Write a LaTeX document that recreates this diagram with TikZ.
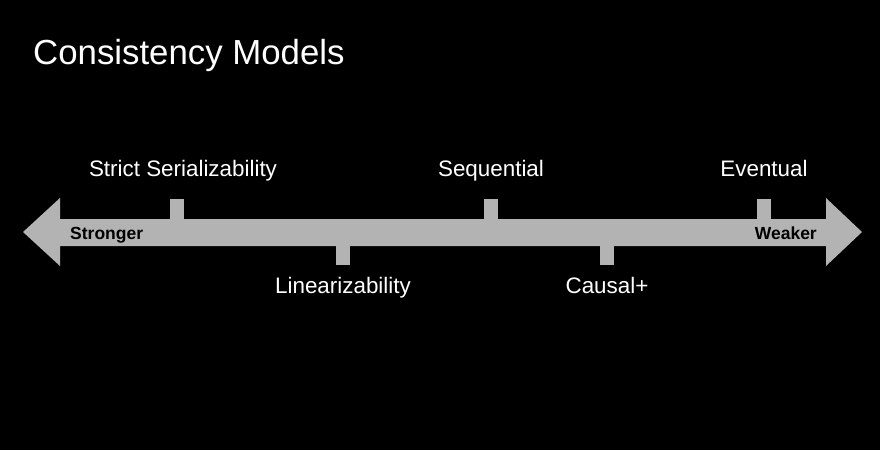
\documentclass[tikz,border=0pt]{standalone}
\usepackage{fontspec}
\setmainfont{Liberation Sans}
\begin{document}
\begin{tikzpicture}[x=1pt,y=-1pt,
  lbl/.style={text=white,font=\fontsize{22.4}{24}\selectfont,inner sep=0pt},
  end/.style={text=black,font=\bfseries\fontsize{17.5}{19}\selectfont,inner sep=0pt}]
\definecolor{arrowgrey}{HTML}{B3B3B3}
\fill[black] (0,0) rectangle (880,450);
\useasboundingbox (0,0) rectangle (880,450);
\node[lbl,anchor=base west,font=\fontsize{34.8}{38}\selectfont] (title) at (33,64) {Consistency Models};
\fill[arrowgrey] (23,232) -- (60,198) -- (60,219) -- (826,219) -- (826,198) -- (862,232) -- (826,266) -- (826,246) -- (60,246) -- (60,266) -- cycle;
\fill[arrowgrey] (170,199) rectangle (184,219);
\fill[arrowgrey] (484,199) rectangle (498,219);
\fill[arrowgrey] (757,199) rectangle (771,219);
\fill[arrowgrey] (336,246) rectangle (350,265);
\fill[arrowgrey] (600,246) rectangle (614,265);
\node[lbl,anchor=base] (ss) at (183,176) {Strict Serializability};
\node[lbl,anchor=base] (sq) at (491,176) {Sequential};
\node[lbl,anchor=base] (ev) at (764,176) {Eventual};
\node[lbl,anchor=base] (li) at (343,293) {Linearizability};
\node[lbl,anchor=base] (ca) at (607,293) {Causal+};
\node[end,anchor=base west] (st) at (70,239) {Stronger};
\node[end,anchor=base east] (wk) at (817,239) {Weaker};
\end{tikzpicture}
\end{document}
